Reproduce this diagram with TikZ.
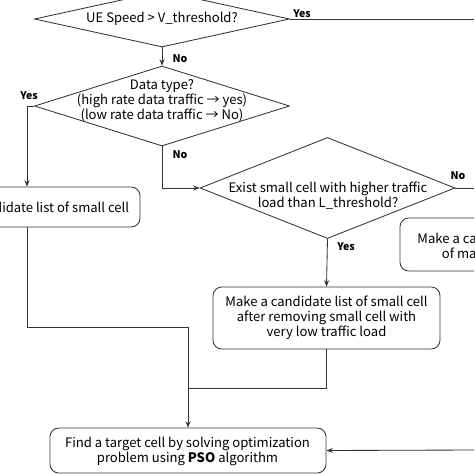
\documentclass[tikz,border=0pt]{standalone}
\usepackage{fontspec}
\setmainfont{Noto Sans CJK KR}
\usetikzlibrary{shapes.geometric,arrows.meta,positioning}

\begin{document}
\begin{tikzpicture}[x=0.25mm,y=-0.25mm,
  every node/.style={font=\fontsize{9.3}{10.8}\selectfont},
  flow/.style={draw=black!80,line width=0.6pt},
  arr/.style={flow,-{Stealth[length=4.5pt,width=3.5pt]}},
  dec/.style={diamond,draw=black!80,line width=0.6pt,inner sep=0pt},
  proc/.style={rectangle,rounded corners=2.2mm,draw=black!80,line width=0.6pt,inner sep=0pt},
  lbl/.style={font=\fontsize{7.5}{9}\selectfont\bfseries}]
\useasboundingbox (0,0) rectangle (474,474);
\clip (0,0) rectangle (474,474);

% decisions
\node[dec,minimum width=63.75mm,minimum height=14mm] (speed) at (162,19) {};
\node (speedtxt) at (162,19) {UE Speed > V\_threshold?};
\node[dec,minimum width=63.75mm,minimum height=20mm] (dtype) at (162,106) {};
\node[align=center] (dtypetxt) at (162,101) {Data type?\\(high rate data traffic → yes)\\(low rate data traffic → No)};
\node[dec,minimum width=63.75mm,minimum height=25.25mm] (exist) at (327.5,188) {};
\node[align=center] (existtxt) at (328,195.5) {Exist small cell with higher traffic\\load than L\_threshold?};

% processes
\node[proc,minimum width=56.5mm,minimum height=10mm] (listall) at (27,207) {};
\node (listalltxt) at (28,207.5) {Make a candidate list of small cell};
\node[proc,minimum width=40.5mm,minimum height=13.25mm] (listmacro) at (481,244.5) {};
\node[align=center] (listmacrotxt) at (481,245.5) {Make a candidate list\\of macro cell};
\node[proc,minimum width=56.75mm,minimum height=15.5mm] (listlow) at (326.5,318) {};
\node[align=center] (listlowtxt) at (326.5,317.5) {Make a candidate list of small cell\\after removing small cell with\\very low traffic load};
\node[proc,minimum width=69mm,minimum height=11.25mm] (pso) at (188,450.5) {};
\node[align=center] (psotxt) at (187.5,451.5) {Find a target cell by solving optimization\\problem using \textbf{PSO} algorithm};

% free ends and joints
\coordinate (speedout) at (474,19);
\coordinate (existout) at (474,188);
\coordinate (macroin) at (474,450);
\coordinate (join1) at (188,327);
\coordinate (join2) at (188,388);

% connectors
\draw[flow] (speed.east) -- (speedout);
\draw[arr] (speed.south) -- (dtype.north);
\draw[arr] (dtype.west) -| (listall.north);
\draw[arr] (dtype.south) |- (exist.west);
\draw[flow] (exist.east) -- (existout);
\draw[arr] (exist.south) -- (listlow.north);
\draw[flow] (listall.south) |- (join1);
\draw[arr] (join1) -- (pso.north);
\draw[flow] (listlow.south) |- (join2);
\draw[arr] (macroin) -- (pso.east);

% labels
\node[lbl] (yes1) at (302,14) {Yes};
\node[lbl] (no1) at (180,59) {No};
\node[lbl] (yes2) at (29,96) {Yes};
\node[lbl] (no2) at (180,155) {No};
\node[lbl] (no3) at (458,176) {No};
\node[lbl] (yes3) at (346,247) {Yes};
\end{tikzpicture}
\end{document}
